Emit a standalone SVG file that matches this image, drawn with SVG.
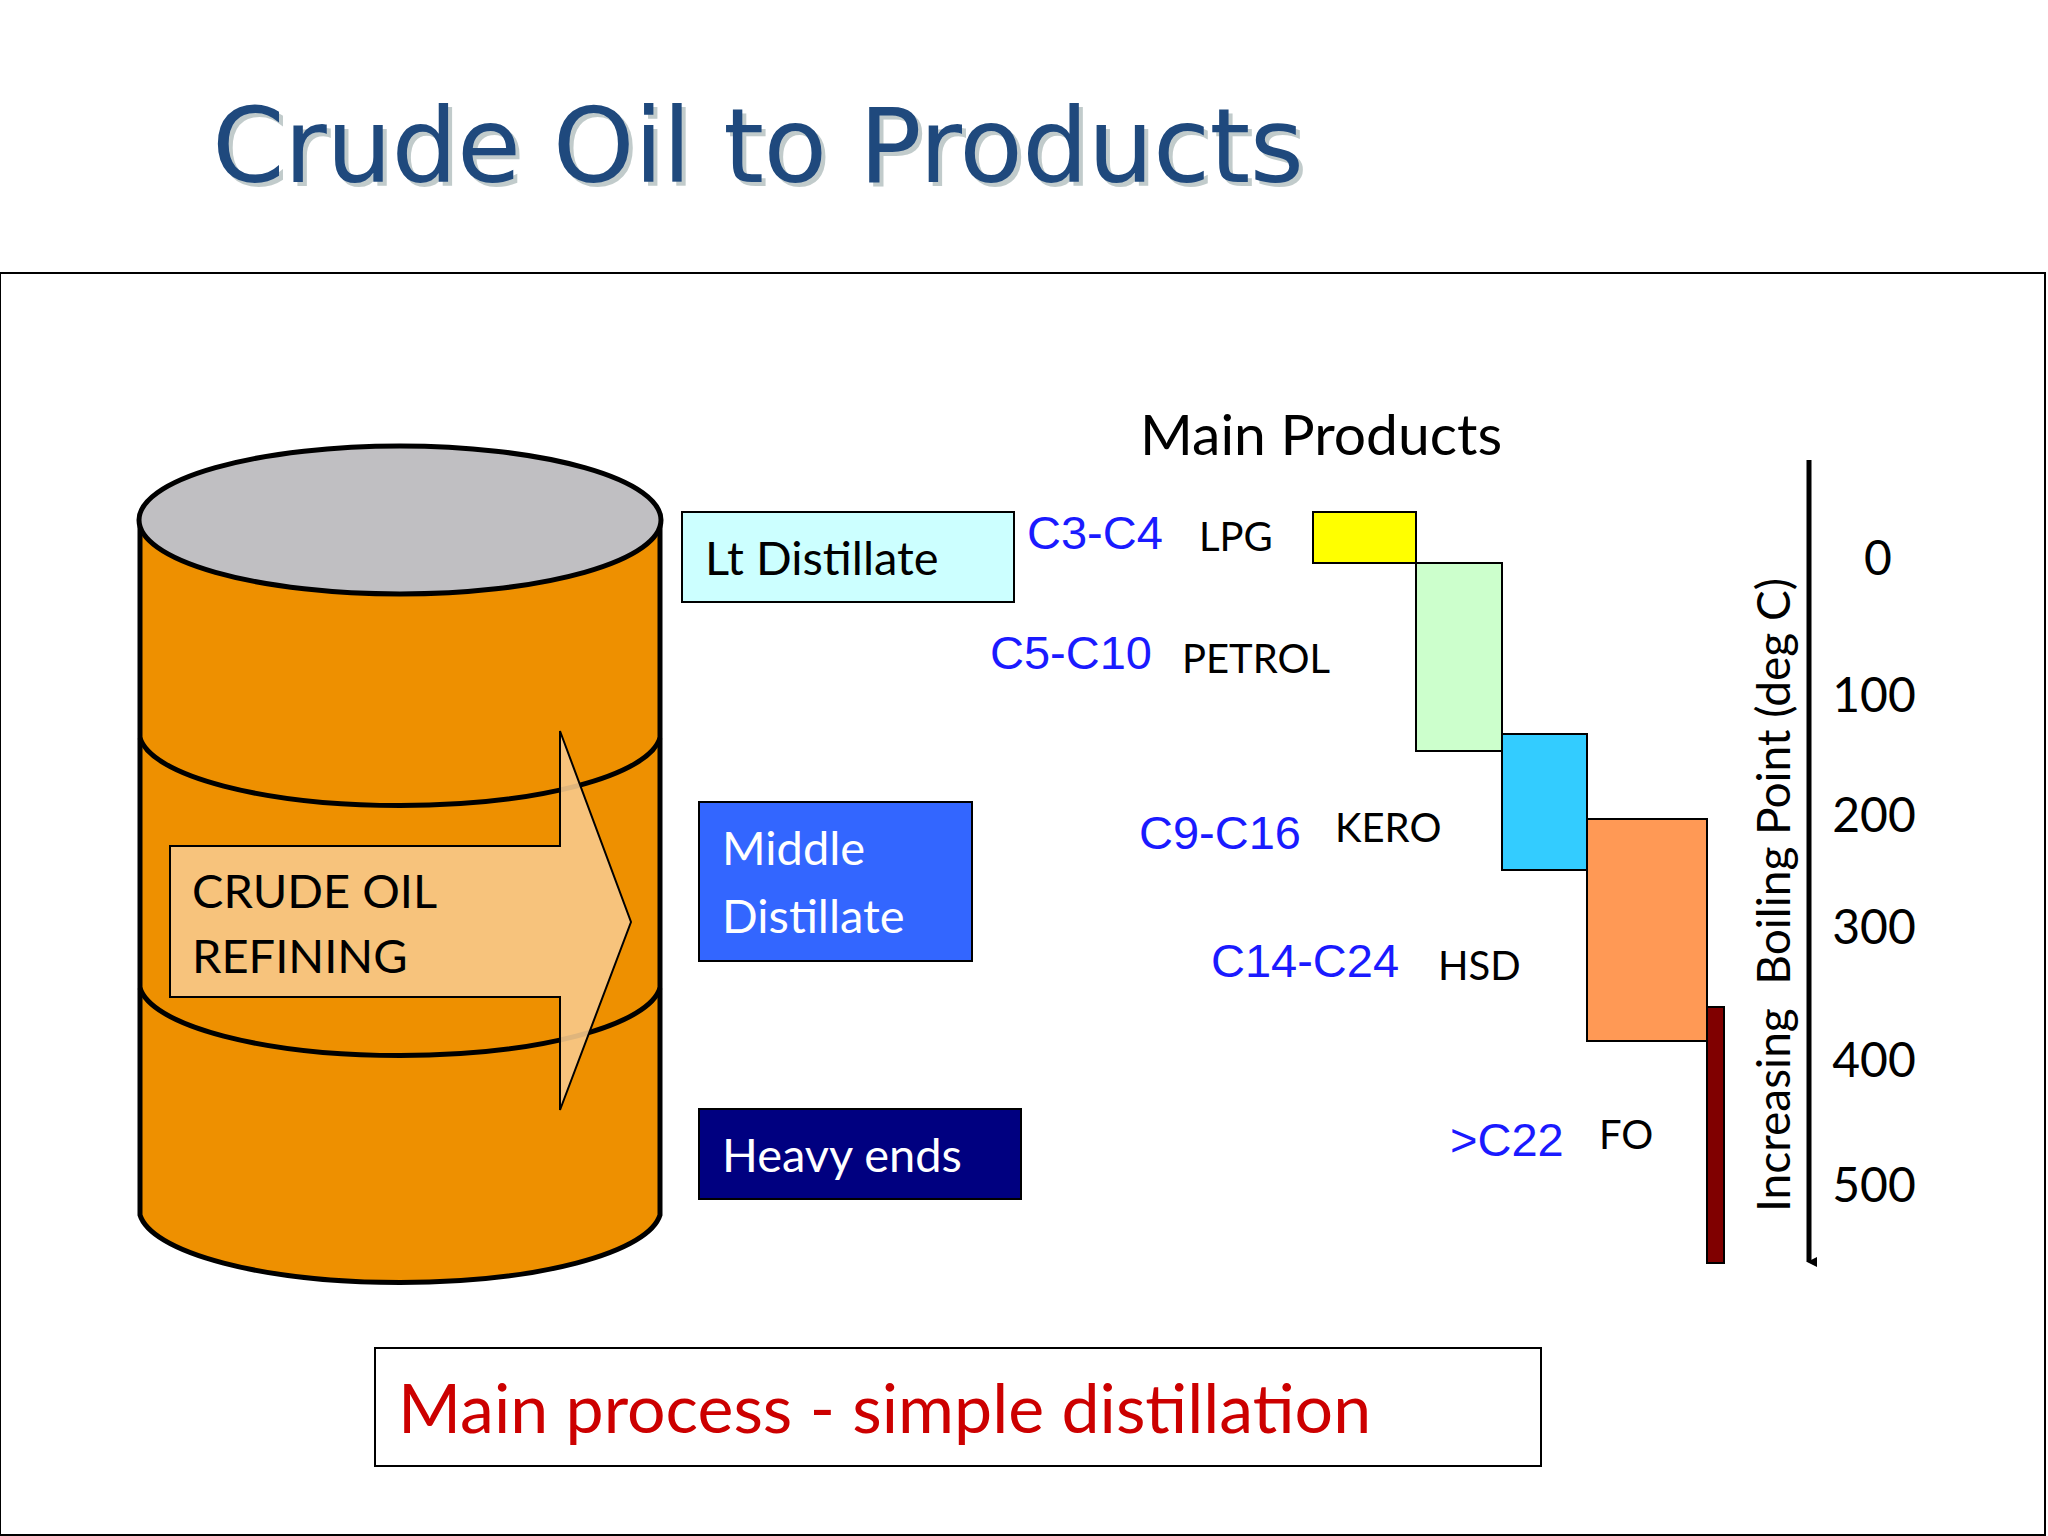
<svg xmlns="http://www.w3.org/2000/svg" width="2048" height="1536" viewBox="0 0 2048 1536">
<defs>
<style>
.c{font-family:Lato,"Open Sans",sans-serif}
.b{font-family:"Liberation Sans",Arial,sans-serif;fill:#1a1aff;font-size:47px}
.k{font-family:Lato,"Open Sans",sans-serif;font-size:40px;fill:#000}
.n{font-family:Lato,"Open Sans",sans-serif;font-size:48px;fill:#000;text-anchor:middle}
.s{stroke:#000;stroke-width:2}
</style>
<marker id="ah" markerWidth="10" markerHeight="10" refX="5" refY="8" orient="auto" markerUnits="userSpaceOnUse" viewBox="0 0 10 10"><path d="M0,0 L10,0 L5,10 Z" fill="#000"/></marker>
</defs>
<rect width="2048" height="1536" fill="#fff"/>
<text x="216" y="186" font-family="DejaVu Sans,Verdana,sans-serif" font-size="104" fill="#9aa" textLength="1092" opacity="0.6">Crude Oil to Products</text>
<text x="212" y="182" font-family="DejaVu Sans,Verdana,sans-serif" font-size="104" fill="#1F497D" textLength="1092">Crude Oil to Products</text>
<rect x="0" y="273" width="2045" height="1262" fill="none" stroke="#000" stroke-width="2"/>
<g id="barrel">
<path d="M140,520 L140,1215 A261,74 0 0 0 660,1215 L660,520 Z" fill="#EE9000" stroke="#000" stroke-width="5"/>
<path d="M140,738 A261,74 0 0 0 660,738" fill="none" stroke="#000" stroke-width="5"/>
<path d="M140,988 A261,74 0 0 0 660,988" fill="none" stroke="#000" stroke-width="5"/>
<ellipse cx="400" cy="520" rx="261" ry="74" fill="#C0BFC2" stroke="#000" stroke-width="5"/>
</g>
<g id="arrow">
<path d="M170,846 L560,846 L560,731 L631,922 L560,1110 L560,997 L170,997 Z" fill="#F7C98A" fill-opacity="0.9" stroke="#000" stroke-width="2"/>
<text class="c" x="192" y="908" font-size="47">CRUDE OIL</text>
<text class="c" x="192" y="973" font-size="47">REFINING</text>
</g>
<g id="lt"><rect x="682" y="512" width="332" height="90" fill="#CCFFFF" class="s"/><text class="c" x="705" y="575" font-size="47">Lt Distillate</text></g>
<g id="mid"><rect x="699" y="802" width="273" height="159" fill="#3366FF" class="s"/><text class="c" x="722" y="865" font-size="47" fill="#fff">Middle</text><text class="c" x="722" y="933" font-size="47" fill="#fff">Distillate</text></g>
<g id="heavy"><rect x="699" y="1109" width="322" height="90" fill="#000080" class="s"/><text class="c" x="722" y="1172" font-size="47" fill="#fff">Heavy ends</text></g>
<text class="c" x="1140" y="455" font-size="57">Main Products</text>
<g id="labels">
<text class="b" x="1027" y="549">C3-C4</text><text class="k" x="1199" y="551">LPG</text>
<text class="b" x="990" y="669">C5-C10</text><text class="k" x="1182" y="673">PETROL</text>
<text class="b" x="1139" y="849">C9-C16</text><text class="k" x="1335" y="842">KERO</text>
<text class="b" x="1211" y="977">C14-C24</text><text class="k" x="1438" y="980">HSD</text>
<text class="b" x="1450" y="1156">&gt;C22</text><text class="k" x="1599" y="1149">FO</text>
</g>
<g id="bars">
<rect x="1313" y="512" width="103" height="51" fill="#FFFF00" class="s"/>
<rect x="1416" y="563" width="86" height="188" fill="#CCFFCC" class="s"/>
<rect x="1502" y="734" width="85" height="136" fill="#33CCFF" class="s"/>
<rect x="1587" y="819" width="120" height="222" fill="#FF9955" class="s"/>
<rect x="1707" y="1007" width="17" height="256" fill="#800000" class="s"/>
</g>
<g id="axis">
<line x1="1809" y1="460" x2="1809" y2="1262" stroke="#000" stroke-width="5" marker-end="url(#ah)"/>
<text class="c" font-size="46" transform="translate(1790,895) rotate(-90)" text-anchor="middle" xml:space="preserve">Increasing  Boiling Point (deg C)</text>
<text class="n" x="1878" y="575">0</text>
<text class="n" x="1874" y="712">100</text>
<text class="n" x="1874" y="832">200</text>
<text class="n" x="1874" y="944">300</text>
<text class="n" x="1874" y="1077">400</text>
<text class="n" x="1874" y="1202">500</text>
</g>
<g id="process"><rect x="375" y="1348" width="1166" height="118" fill="#fff" class="s"/><text class="c" x="398" y="1433" font-size="68" fill="#CC0000">Main process - simple distillation</text></g>
</svg>
